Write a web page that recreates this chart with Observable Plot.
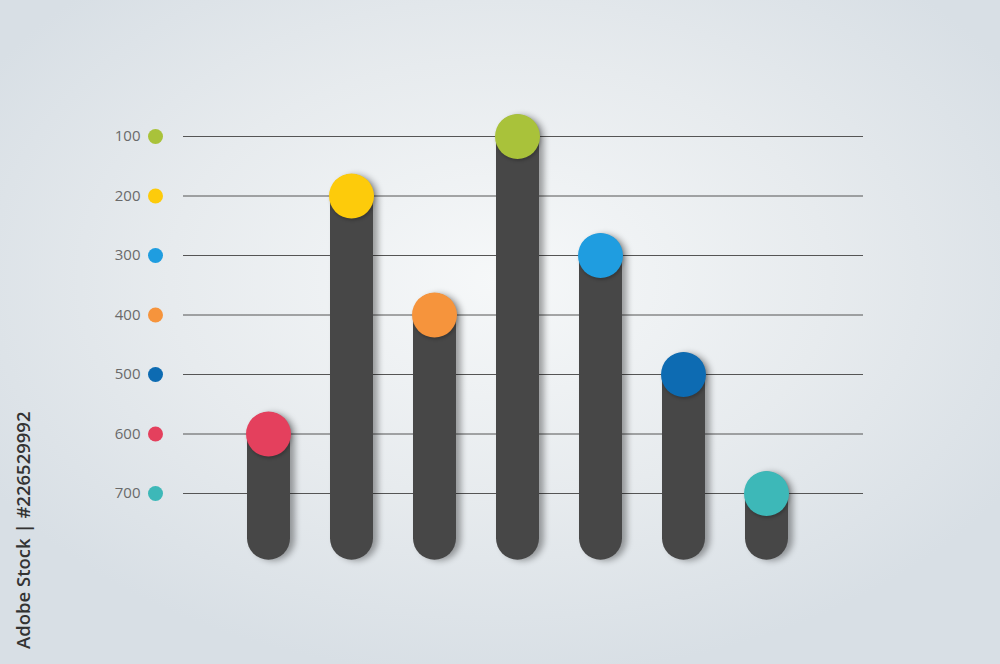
<!DOCTYPE html>
<html>
<head>
<meta charset="utf-8">
<script src="https://cdn.jsdelivr.net/npm/d3@7"></script>
<script src="https://cdn.jsdelivr.net/npm/@observablehq/plot@0.6"></script>
<style>
  html, body { margin: 0; padding: 0; width: 1000px; height: 664px; overflow: hidden; }
  body { background: radial-gradient(ellipse 60% 60% at 50% 42%, #f6f8f9 0%, #e7ebee 55%, #d8dfe5 100%); position: relative; font-family: "Open Sans", sans-serif; }
  #chart { position: absolute; left: 0; top: 0; }
  #credit { position: absolute; left: 10px; top: 649px; transform-origin: 0 0; transform: rotate(-90deg); font-size: 18.5px; font-weight: 600; color: #333; white-space: nowrap; font-family: "Open Sans", sans-serif; }
</style>
</head>
<body>
<div id="chart"></div>
<div id="credit">Adobe Stock | #226529992</div>
<script>
const positions = [1, 2, 3, 4, 5, 6, 7];
const values = [600, 200, 400, 100, 300, 500, 700];
const barBase = 776;
const tickValues = [100, 200, 300, 400, 500, 600, 700];
const tickColors = ["#a9c23a", "#fdcb0b", "#1f9de0", "#f6943c", "#0d6bb2", "#e4405d", "#3db8b8"];
const colorByValue = new Map(tickValues.map((v, i) => [v, tickColors[i]]));

const bars = positions.map((p, i) => ({x: p, y: values[i], base: barBase, color: colorByValue.get(values[i])}));
const ticks = tickValues.map((v, i) => ({y: v, color: tickColors[i]}));

const chart = Plot.plot({
  width: 1000,
  height: 664,
  marginLeft: 183,
  marginRight: 137,
  marginTop: 100,
  marginBottom: 100,
  style: {background: "transparent", fontFamily: "Open Sans, sans-serif"},
  x: {domain: [1, 7], range: [268, 766], axis: null},
  y: {domain: [100, 700], range: [136, 493], axis: null},
  marks: [
    Plot.gridY(tickValues, {stroke: "#555", strokeOpacity: 1, strokeWidth: 1}),
    Plot.axisY(tickValues, {anchor: "left", tickSize: 0, tickPadding: 43, fontSize: 15, fill: "#6a6a6a", tickFormat: d => String(d)}),
    Plot.dot(ticks, {y: "y", frameAnchor: "left", dx: -28, r: 7.5, fill: "color", stroke: null}),
    Plot.ruleX(bars, {x: "x", y1: "y", y2: "base", stroke: "#474747", strokeWidth: 43, strokeLinecap: "round", className: "bars"}),
    Plot.dot(bars, {x: "x", y: "y", r: 22.5, fill: "color", stroke: null, className: "heads"})
  ]
});
document.getElementById("chart").appendChild(chart);
d3.select(chart).selectAll(".bars").style("filter", "drop-shadow(5px 1px 3px rgba(0,0,0,0.35))");
d3.select(chart).selectAll(".heads").style("filter", "drop-shadow(1px 2px 1.5px rgba(0,0,0,0.22))");
</script>
</body>
</html>
